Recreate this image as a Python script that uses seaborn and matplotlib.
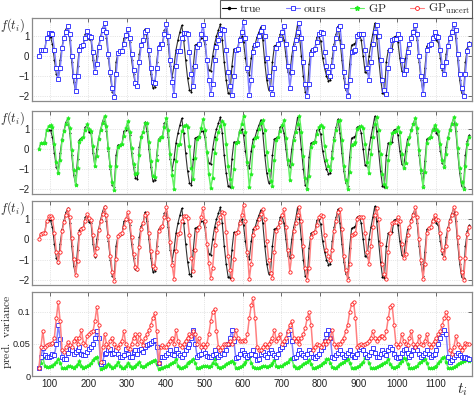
import numpy as np
import matplotlib
matplotlib.use("Agg")
import matplotlib.pyplot as plt
from matplotlib.lines import Line2D
import seaborn as sns

# ---------------- data (one sample every 5 steps) ----------------
t_start = 72
t_step = 5

true_f = [
    0.0, 0.3, 0.3, 0.35, 0.95, 0.95, 0.95, 0.6, -0.2, -0.9,
    -1.15, -0.2, 0.5, 0.95, 1.35, 1.55, 0.8, -0.3, -1.3, -1.75,
    -0.5, 0.45, 0.55, 0.6, 1.1, 1.2, 0.85, 0.8, -0.2, -0.85,
    0.0, 0.55, 1.0, 1.4, 1.65, 0.9, -0.1, -1.0, -1.8, -1.9,
    -0.3, 0.2, 0.2, 0.25, 0.9, 0.95, 1.35, 0.7, -0.2, -0.9,
    -1.45, -1.5, 0.1, 0.65, 0.85, 1.35, 0.9, 0.0, -0.9, -1.6,
    -1.55, -0.3, 0.5, 0.6, 0.6, 1.3, 1.4, 0.6, -0.5, -1.05,
    -0.5, 0.3, 0.8, 1.2, 1.55, 0.8, -0.2, -1.1, -1.7, -1.8,
    -0.5, 0.55, 0.6, 0.65, 0.9, 0.9, 0.6, -0.2, -0.7, -0.75,
    0.0, 0.6, 1.0, 1.3, 1.6, 0.8, -0.3, -1.2, -1.85, -1.9,
    -0.5, 0.35, 0.35, 0.4, 0.95, 1.0, 0.7, -0.1, -0.8, -0.95,
    -0.1, 0.5, 0.6, 0.95, 1.2, 1.47, 0.8, -0.3, -1.2, -1.7,
    -1.6, -0.3, 0.5, 0.55, 0.6, 1.1, 1.15, 0.8, 0.0, -0.8,
    -0.9, 0.0, 0.6, 1.0, 1.6, 1.0, 0.0, -1.0, -1.8, -1.95,
    -0.4, 0.3, 0.35, 0.4, 0.95, 1.0, 0.75, -0.1, -0.6, -1.0,
    -1.25, -1.2, -0.1, 0.6, 1.1, 1.5, 0.8, -0.2, -1.1, -1.7,
    -1.85, -0.4, 0.55, 0.6, 0.65, 1.1, 1.15, 0.8, 0.0, -0.8,
    -0.85, 0.0, 0.6, 1.1, 1.65, 0.9, -0.1, -1.1, -1.85, -1.9,
    -0.3, 0.3, 0.3, 0.35, 0.95, 1.0, 0.7, -0.1, -0.75, -0.9,
    -0.1, 0.5, 0.6, 1.0, 1.3, 1.55, 0.8, -0.3, -1.2, -1.8,
    -0.6, 0.5, 0.55, 0.6, 1.0, 1.1, 0.8, 0.7, -0.1, -0.7,
    -0.8, 0.1, 0.6, 1.0, 1.3, 1.6, 0.9, -0.2, -1.2, -1.85,
    -1.9, -0.3, 0.4, 0.7,
]

ours_f = [
    0.0, 0.28, 0.3, 0.3, 0.9, 1.15, 1.15, 1.1, 0.3, -0.6,
    -1.15, -0.6, 0.4, 0.9, 1.2, 1.5, 1.1, 0.0, -1.0, -1.75,
    -1.0, 0.3, 0.5, 0.55, 0.9, 1.25, 1.0, 0.95, 0.2, -0.8,
    -0.4, 0.45, 0.9, 1.3, 1.65, 1.2, 0.1, -0.8, -1.6, -2.05,
    -0.9, 0.15, 0.25, 0.25, 0.6, 1.05, 1.35, 0.9, 0.1, -0.7,
    -1.35, -1.5, -0.3, 0.55, 0.8, 1.2, 1.3, 0.3, -0.6, -1.3,
    -1.35, -0.6, 0.4, 0.6, 0.6, 1.1, 1.6, 1.0, -0.2, -1.3,
    -1.95, -0.5, 0.25, 0.25, 0.9, 1.15, 1.15, 1.1, 0.2, -0.9,
    -1.5, -0.5, 0.45, 0.6, 1.1, 1.55, 0.9, -0.2, -1.2, -1.9,
    -1.4, -0.2, 0.45, 0.8, 1.1, 1.35, 1.3, 0.3, -0.8, -1.5,
    -1.95, -1.0, 0.3, 0.35, 0.8, 1.2, 1.7, 0.9, -0.6, -1.95,
    -1.2, 0.2, 0.55, 0.6, 1.0, 1.25, 1.45, 1.0, -0.1, -1.0,
    -1.6, -1.9, -0.6, 0.4, 0.6, 0.85, 1.2, 1.5, 0.6, -0.5,
    -1.6, -0.8, 0.4, 0.8, 1.2, 1.65, 0.9, -0.3, -1.4, -2.0,
    -1.4, 0.1, 0.3, 0.35, 0.7, 1.1, 1.2, 1.15, 0.2, -0.5,
    -0.8, -1.0, -0.5, 0.4, 0.9, 1.35, 1.5, 0.5, -0.8, -1.5,
    -2.0, -1.2, 0.2, 0.25, 0.3, 1.0, 1.1, 1.1, 1.1, 0.3,
    -0.6, -1.2, -0.3, 0.6, 1.2, 1.55, 1.0, -0.2, -1.2, -1.7,
    -1.9, -0.6, 0.3, 0.8, 0.85, 0.85, 1.1, 0.9, -0.2, -0.9,
    -0.7, 0.2, 0.6, 0.9, 1.2, 1.55, 1.1, 0.0, -1.0, -1.9,
    -1.2, 0.3, 0.55, 0.6, 0.9, 1.2, 1.0, 0.95, 0.3, -0.5,
    -0.9, -0.3, 0.5, 0.9, 1.2, 1.6, 1.3, 0.1, -0.9, -1.6,
    -2.0, -0.9, 0.25, 0.6,
]

gp_f = [
    0.0, 0.3, 0.32, 0.3, 0.95, 1.15, 1.2, 1.1, 0.25, -0.65,
    -1.2, -0.55, 0.45, 0.9, 1.25, 1.55, 1.05, -0.05, -1.05, -1.8,
    -0.95, 0.35, 0.5, 0.6, 0.95, 1.25, 1.0, 0.9, 0.15, -0.85,
    -0.35, 0.5, 0.95, 1.3, 1.65, 1.15, 0.05, -0.85, -1.65, -2.05,
    -0.85, 0.1, 0.2, 0.25, 0.65, 1.05, 1.4, 0.85, 0.05, -0.75,
    -1.25, -1.2, -0.3, 0.6, 0.85, 1.3, 1.3, 0.35, -0.6, -1.35,
    -1.4, -0.55, 0.45, 0.6, 0.6, 1.1, 1.55, 0.95, -0.25, -1.3,
    -2.0, -0.6, 0.2, 0.25, 0.9, 1.15, 1.2, 1.1, 0.15, -0.95,
    -1.5, -0.45, 0.5, 0.6, 1.05, 1.5, 0.95, -0.15, -1.25, -1.95,
    -1.45, -0.2, 0.5, 0.85, 1.15, 1.4, 1.25, 0.25, -0.85, -1.5,
    -1.9, -1.0, 0.3, 0.35, 0.85, 1.25, 1.65, 0.85, -0.65, -1.9,
    -1.25, 0.15, 0.55, 0.6, 1.0, 1.3, 1.45, 0.95, -0.15, -1.05,
    -1.6, -1.85, -0.55, 0.45, 0.6, 0.9, 1.2, 1.45, 0.55, -0.55,
    -1.55, -0.75, 0.45, 0.85, 1.25, 1.65, 0.85, -0.35, -1.45, -2.0,
    -1.35, 0.1, 0.3, 0.35, 0.75, 1.1, 1.2, 1.1, 0.15, -0.55,
    -0.85, -1.05, -0.45, 0.45, 0.95, 1.4, 1.45, 0.45, -0.85, -1.55,
    -2.0, -1.15, 0.2, 0.25, 0.35, 1.0, 1.1, 1.15, 1.05, 0.25,
    -0.65, -1.2, -0.25, 0.6, 1.25, 1.6, 0.95, -0.25, -1.25, -1.75,
    -1.9, -0.55, 0.3, 0.8, 0.85, 0.9, 1.1, 0.85, -0.25, -0.95,
    -0.7, 0.25, 0.6, 0.95, 1.25, 1.55, 1.05, -0.05, -1.05, -1.9,
    -1.15, 0.3, 0.55, 0.6, 0.95, 1.2, 1.0, 0.9, 0.25, -0.55,
    -0.9, -0.25, 0.55, 0.95, 1.25, 1.6, 1.25, 0.05, -0.95, -1.65,
    -2.0, -0.85, 0.25, 0.6,
]

gpu_f = [
    0.0, 0.28, 0.3, 0.32, 0.9, 1.15, 1.15, 1.05, 0.3, -0.6,
    -1.1, -0.6, 0.4, 0.85, 1.2, 1.5, 1.1, 0.05, -0.95, -1.75,
    -1.05, 0.3, 0.5, 0.55, 0.9, 1.25, 1.05, 0.95, 0.2, -0.75,
    -0.4, 0.45, 0.9, 1.25, 1.6, 1.2, 0.15, -0.8, -1.6, -2.05,
    -0.95, 0.15, 0.25, 0.3, 0.6, 1.0, 1.35, 0.9, 0.1, -0.7,
    -1.35, -1.45, -0.35, 0.5, 0.8, 1.2, 1.3, 0.3, -0.55, -1.3,
    -1.4, -0.6, 0.4, 0.6, 0.65, 1.1, 1.6, 1.0, -0.15, -1.25,
    -1.95, -0.55, 0.25, 0.3, 0.9, 1.15, 1.15, 1.05, 0.2, -0.9,
    -1.55, -0.5, 0.45, 0.6, 1.1, 1.55, 0.9, -0.2, -1.15, -1.9,
    -1.4, -0.25, 0.45, 0.8, 1.1, 1.35, 1.3, 0.35, -0.8, -1.5,
    -1.95, -0.95, 0.3, 0.35, 0.8, 1.2, 1.7, 0.9, -0.6, -1.95,
    -1.2, 0.2, 0.55, 0.6, 1.0, 1.25, 1.5, 1.0, -0.1, -1.0,
    -1.65, -1.9, -0.6, 0.4, 0.6, 0.85, 1.2, 1.5, 0.6, -0.5,
    -1.6, -0.8, 0.4, 0.8, 1.2, 1.6, 0.9, -0.3, -1.4, -2.0,
    -1.4, 0.1, 0.3, 0.35, 0.7, 1.1, 1.2, 1.15, 0.2, -0.5,
    -0.8, -1.0, -0.5, 0.4, 0.9, 1.35, 1.5, 0.5, -0.8, -1.5,
    -2.0, -1.2, 0.2, 0.25, 0.3, 1.0, 1.1, 1.1, 1.1, 0.3,
    -0.6, -1.2, -0.3, 0.6, 1.2, 1.55, 1.0, -0.2, -1.2, -1.7,
    -1.95, -0.6, 0.3, 0.8, 0.85, 0.85, 1.1, 0.9, -0.2, -0.9,
    -0.7, 0.2, 0.6, 0.9, 1.2, 1.6, 1.1, 0.0, -1.0, -1.95,
    -1.2, 0.3, 0.55, 0.6, 0.9, 1.2, 1.0, 0.95, 0.3, -0.5,
    -0.9, -0.3, 0.5, 0.9, 1.2, 1.6, 1.3, 0.1, -0.9, -1.6,
    -2.0, -0.9, 0.25, 0.6,
]

ours_var = [
    0.012, 0.03, 0.043, 0.032, 0.03, 0.03, 0.031, 0.034, 0.032, 0.05,
    0.079, 0.058, 0.03, 0.026, 0.027, 0.036, 0.042, 0.04, 0.035, 0.037,
    0.04, 0.045, 0.035, 0.032, 0.033, 0.038, 0.042, 0.045, 0.05, 0.06,
    0.07, 0.06, 0.018, 0.022, 0.035, 0.036, 0.04, 0.042, 0.035, 0.036,
    0.04, 0.035, 0.03, 0.03, 0.032, 0.042, 0.035, 0.03, 0.03, 0.038,
    0.04, 0.035, 0.04, 0.042, 0.037, 0.045, 0.048, 0.05, 0.052, 0.055,
    0.056, 0.045, 0.02, 0.03, 0.03, 0.03, 0.032, 0.036, 0.04, 0.035,
    0.032, 0.042, 0.036, 0.032, 0.03, 0.035, 0.04, 0.045, 0.05, 0.06,
    0.072, 0.05, 0.03, 0.032, 0.035, 0.04, 0.036, 0.031, 0.03, 0.03,
    0.032, 0.04, 0.035, 0.03, 0.032, 0.036, 0.034, 0.04, 0.05, 0.06,
    0.072, 0.055, 0.028, 0.03, 0.035, 0.04, 0.036, 0.033, 0.03, 0.032,
    0.035, 0.04, 0.033, 0.025, 0.027, 0.035, 0.038, 0.032, 0.03, 0.036,
    0.04, 0.036, 0.032, 0.03, 0.035, 0.042, 0.046, 0.05, 0.055, 0.065,
    0.072, 0.055, 0.028, 0.03, 0.034, 0.04, 0.036, 0.032, 0.03, 0.035,
    0.04, 0.036, 0.03, 0.028, 0.031, 0.035, 0.04, 0.045, 0.055, 0.065,
    0.072, 0.06, 0.03, 0.028, 0.032, 0.036, 0.04, 0.034, 0.03, 0.032,
    0.036, 0.04, 0.032, 0.03, 0.03, 0.035, 0.042, 0.045, 0.04, 0.034,
    0.03, 0.032, 0.038, 0.044, 0.036, 0.03, 0.03, 0.035, 0.04, 0.036,
    0.033, 0.04, 0.045, 0.042, 0.035, 0.03, 0.028, 0.03, 0.036, 0.04,
    0.042, 0.036, 0.03, 0.033, 0.04, 0.045, 0.04, 0.034, 0.03, 0.033,
    0.036, 0.04, 0.034, 0.03, 0.032, 0.035, 0.04, 0.05, 0.06, 0.068,
    0.072, 0.065, 0.03, 0.022, 0.025, 0.03, 0.033, 0.036, 0.032, 0.03,
    0.028, 0.03, 0.028, 0.027,
]

gp_var = [
    0.012, 0.02, 0.03, 0.016, 0.014, 0.014, 0.015, 0.016, 0.018, 0.022,
    0.027, 0.02, 0.013, 0.012, 0.013, 0.015, 0.016, 0.014, 0.013, 0.015,
    0.018, 0.024, 0.016, 0.013, 0.014, 0.015, 0.017, 0.02, 0.025, 0.028,
    0.03, 0.02, 0.011, 0.012, 0.014, 0.016, 0.018, 0.015, 0.013, 0.014,
    0.017, 0.022, 0.015, 0.013, 0.013, 0.015, 0.02, 0.016, 0.013, 0.014,
    0.016, 0.018, 0.022, 0.016, 0.014, 0.016, 0.018, 0.02, 0.022, 0.024,
    0.025, 0.018, 0.011, 0.012, 0.013, 0.014, 0.015, 0.016, 0.018, 0.02,
    0.022, 0.026, 0.016, 0.013, 0.013, 0.014, 0.016, 0.02, 0.022, 0.024,
    0.027, 0.02, 0.012, 0.013, 0.014, 0.015, 0.016, 0.015, 0.014, 0.016,
    0.02, 0.026, 0.018, 0.014, 0.013, 0.014, 0.016, 0.018, 0.02, 0.022,
    0.024, 0.02, 0.013, 0.013, 0.014, 0.015, 0.018, 0.022, 0.026, 0.03,
    0.02, 0.014, 0.012, 0.012, 0.013, 0.014, 0.016, 0.015, 0.014, 0.015,
    0.017, 0.02, 0.025, 0.016, 0.014, 0.015, 0.016, 0.018, 0.02, 0.022,
    0.026, 0.028, 0.016, 0.013, 0.013, 0.014, 0.016, 0.018, 0.02, 0.022,
    0.025, 0.018, 0.012, 0.013, 0.014, 0.015, 0.017, 0.02, 0.022, 0.026,
    0.027, 0.02, 0.014, 0.013, 0.013, 0.015, 0.018, 0.02, 0.022, 0.025,
    0.027, 0.02, 0.013, 0.012, 0.013, 0.014, 0.016, 0.018, 0.022, 0.028,
    0.03, 0.02, 0.013, 0.012, 0.013, 0.014, 0.015, 0.017, 0.018, 0.02,
    0.022, 0.026, 0.018, 0.014, 0.013, 0.014, 0.016, 0.02, 0.024, 0.028,
    0.026, 0.018, 0.013, 0.012, 0.013, 0.014, 0.016, 0.02, 0.022, 0.025,
    0.027, 0.02, 0.013, 0.012, 0.013, 0.014, 0.016, 0.02, 0.024, 0.028,
    0.03, 0.022, 0.013, 0.012, 0.013, 0.014, 0.016, 0.018, 0.02, 0.022,
    0.024, 0.026, 0.025, 0.024,
]

gpu_var = [
    0.012, 0.045, 0.07, 0.045, 0.048, 0.05, 0.05, 0.052, 0.06, 0.09,
    0.115, 0.085, 0.04, 0.038, 0.045, 0.053, 0.048, 0.045, 0.055, 0.06,
    0.05, 0.06, 0.072, 0.052, 0.048, 0.062, 0.066, 0.068, 0.07, 0.085,
    0.108, 0.08, 0.022, 0.045, 0.066, 0.05, 0.046, 0.055, 0.06, 0.05,
    0.045, 0.044, 0.05, 0.055, 0.07, 0.05, 0.044, 0.042, 0.05, 0.06,
    0.065, 0.05, 0.066, 0.055, 0.048, 0.06, 0.065, 0.072, 0.08, 0.09,
    0.098, 0.07, 0.02, 0.045, 0.048, 0.046, 0.045, 0.05, 0.055, 0.06,
    0.05, 0.072, 0.055, 0.048, 0.045, 0.05, 0.055, 0.06, 0.065, 0.062,
    0.07, 0.065, 0.05, 0.06, 0.045, 0.05, 0.045, 0.05, 0.065, 0.085,
    0.1, 0.104, 0.07, 0.045, 0.04, 0.045, 0.05, 0.05, 0.05, 0.055,
    0.05, 0.06, 0.072, 0.06, 0.055, 0.055, 0.056, 0.055, 0.065, 0.09,
    0.11, 0.121, 0.09, 0.045, 0.04, 0.04, 0.045, 0.05, 0.045, 0.05,
    0.055, 0.06, 0.072, 0.055, 0.06, 0.065, 0.05, 0.055, 0.06, 0.07,
    0.08, 0.085, 0.06, 0.055, 0.06, 0.05, 0.06, 0.065, 0.075, 0.09,
    0.1, 0.08, 0.04, 0.045, 0.05, 0.048, 0.045, 0.05, 0.055, 0.05,
    0.055, 0.06, 0.072, 0.05, 0.045, 0.05, 0.05, 0.055, 0.06, 0.07,
    0.08, 0.1, 0.112, 0.116, 0.09, 0.045, 0.048, 0.05, 0.048, 0.05,
    0.052, 0.055, 0.06, 0.07, 0.06, 0.055, 0.06, 0.062, 0.062, 0.06,
    0.07, 0.09, 0.108, 0.111, 0.08, 0.05, 0.045, 0.05, 0.066, 0.055,
    0.05, 0.048, 0.06, 0.07, 0.05, 0.045, 0.05, 0.062, 0.05, 0.048,
    0.055, 0.066, 0.05, 0.045, 0.05, 0.055, 0.06, 0.065, 0.07, 0.08,
    0.09, 0.1, 0.09, 0.04, 0.035, 0.045, 0.062, 0.05, 0.045, 0.04,
    0.045, 0.052, 0.05, 0.05,
]

x_ticks = [100, 200, 300, 400, 500, 600, 700, 800, 900, 1000, 1100]
f_ticks = [-2, -1, 0, 1]
var_ticks = [0, 0.05, 0.1]
var_tick_labels = ["0", "0.05", "0.1"]

# ---------------- style ----------------
sns.set_style("white")
plt.rcParams["font.family"] = ["Liberation Sans", "DejaVu Sans"]
plt.rcParams["mathtext.fontset"] = "cm"

t = t_start + t_step * np.arange(len(true_f))

C_TRUE = "black"
C_OURS = "#2020ff"
C_OURS_L = "#8080ff"
C_GP = "#22ee22"
C_GP_L = "#66f066"
C_GPU = "#ff1a1a"
C_GPU_L = "#ff8080"

W, H = 474, 398
fig = plt.figure(figsize=(W / 100, H / 100), dpi=100)

def rect(top, bottom, left=32, right=472):
    return [left / W, 1 - bottom / H, (right - left) / W, (bottom - top) / H]

ax1 = fig.add_axes(rect(18, 101))
ax2 = fig.add_axes(rect(111, 194))
ax3 = fig.add_axes(rect(201, 285))
ax4 = fig.add_axes(rect(292, 376))

def draw(ax, y, color, line_color, marker, ms, hollow, lw=1.1, mew=0.6):
    sns.lineplot(x=t, y=y, ax=ax, color=line_color, lw=lw, marker=marker,
                 markersize=ms,
                 markerfacecolor=("white" if hollow else color),
                 markeredgecolor=color, markeredgewidth=mew,
                 legend=False, errorbar=None, sort=False)

preds = [(ax1, ours_f, C_OURS, C_OURS_L, "s", 2.2, True),
         (ax2, gp_f, C_GP, C_GP_L, "*", 2.8, False),
         (ax3, gpu_f, C_GPU, C_GPU_L, "o", 2.4, True)]

for ax, pred, col, lcol, mk, ms, hol in preds:
    draw(ax, true_f, C_TRUE, "#333333", ".", 2.2, False, lw=0.8, mew=0.3)
    draw(ax, pred, col, lcol, mk, ms, hol)
    ax.set_ylim(-2.27, 1.92)
    ax.set_yticks(f_ticks)
    ax.set_yticklabels([str(v).replace("-", "\u2212") for v in f_ticks])
    ax.set_xticklabels([])
    ax.text(-0.015, 0.91, r"$f(t_i)$", transform=ax.transAxes,
            ha="right", va="center", fontsize=9)

draw(ax4, gp_var, C_GP, C_GP_L, "*", 2.8, False)
draw(ax4, ours_var, C_OURS, C_OURS_L, "s", 2.2, True)
draw(ax4, gpu_var, C_GPU, C_GPU_L, "o", 2.4, True)
ax4.set_ylim(0, 0.131)
ax4.set_yticks(var_ticks)
ax4.set_yticklabels(var_tick_labels)

for ax in (ax1, ax2, ax3, ax4):
    ax.set_xlim(54, 1194)
    ax.set_xticks(x_ticks)
    ax.set_xlabel("")
    ax.set_ylabel("")
    ax.grid(True, color="#cfcfcf", lw=0.5, ls=":")
    ax.set_axisbelow(True)
    for s in ax.spines.values():
        s.set_color("#8a8a8a")
        s.set_linewidth(0.9)
    ax.tick_params(direction="in", length=3, width=0.6, color="#555555",
                   top=True, right=True, labelsize=7, labelcolor="#222222",
                   pad=2)
ax4.tick_params(axis="y", labelsize=6.6, pad=1.0)
ax4.set_xticklabels([str(v) for v in x_ticks])

fig.text(6.5 / W, 1 - 332 / H, r"$\mathrm{pred.\ variance}$", rotation=90,
         ha="center", va="center", fontsize=8.3)
fig.text(462 / W, 1 - 390 / H, r"$t_i$", ha="center", va="center",
         fontsize=11)

handles = [
    Line2D([], [], color=C_TRUE, lw=0.8, marker=".", ms=3.0),
    Line2D([], [], color=C_OURS_L, lw=0.8, marker="s", ms=2.6,
           mfc="white", mec=C_OURS, mew=0.6),
    Line2D([], [], color=C_GP_L, lw=0.8, marker="*", ms=3.5,
           mfc=C_GP, mec=C_GP),
    Line2D([], [], color=C_GPU_L, lw=0.8, marker="o", ms=2.8,
           mfc="white", mec=C_GPU, mew=0.6),
]
labels = [r"$\mathrm{true}$", r"$\mathrm{ours}$", r"$\mathrm{GP}$",
          r"$\mathrm{GP}_{\mathrm{uncert}}$"]
leg = fig.legend(handles, labels, loc="upper right",
                 bbox_to_anchor=(472 / W, 1.0), ncol=4, fontsize=8.5,
                 frameon=True, fancybox=False, edgecolor="#333333",
                 borderpad=0.15, handlelength=1.2, handletextpad=0.3,
                 columnspacing=2.0, borderaxespad=0.0)
leg.get_frame().set_linewidth(0.8)

fig.savefig("out.png", dpi=100)
